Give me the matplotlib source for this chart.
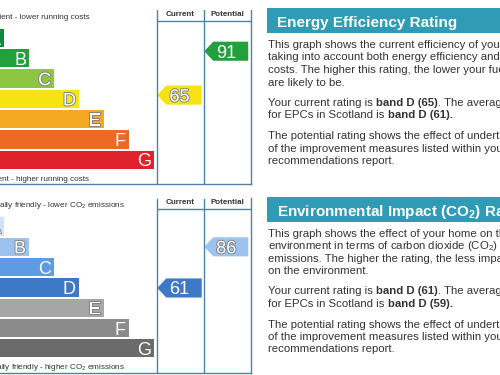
import matplotlib
matplotlib.use("Agg")
import matplotlib.pyplot as plt
import matplotlib.patheffects as pe
from matplotlib.colors import to_rgb
from matplotlib.patches import Polygon, Rectangle

plt.rcParams["font.family"] = ["Liberation Sans", "DejaVu Sans"]
plt.rcParams["mathtext.fontset"] = "custom"
plt.rcParams["mathtext.rm"] = "Liberation Sans"
plt.rcParams["mathtext.it"] = "Liberation Sans"
plt.rcParams["mathtext.bf"] = "Liberation Sans:bold"

# rating bands (A best .. G worst) and their score ranges
bands = ["A", "B", "C", "D", "E", "F", "G"]
band_lengths = [1, 2, 3, 4, 5, 6, 7]
band_low = [92, 81, 69, 55, 39, 21, 1]
band_high = [100, 91, 80, 68, 54, 38, 20]

energy_current = 65
energy_potential = 91
co2_current = 61
co2_potential = 86

energy_top = "Very energy efficient - lower running costs"
energy_bottom = "Not energy efficient - higher running costs"
co2_top = "Very environmentally friendly - lower CO$_2$ emissions"
co2_bottom = "Not environmentally friendly - higher CO$_2$ emissions"

energy_title = "Energy Efficiency Rating"
co2_title = "Environmental Impact (CO$_\\mathbf{2}$) Rating"

energy_paras = [
    [[("This graph shows the current efficiency of your home,", False)],
     [("taking into account both energy efficiency and fuel", False)],
     [("costs. The higher this rating, the lower your fuel bills", False)],
     [("are likely to be.", False)]],
    [[("Your current rating is ", False), ("band D (65)", True), (". The average rating", False)],
     [("for EPCs in Scotland is ", False), ("band D (61).", True)]],
    [[("The potential rating shows the effect of undertaking all", False)],
     [("of the improvement measures listed within your", False)],
     [("recommendations report.", False)]],
]
co2_paras = [
    [[("This graph shows the effect of your home on the", False)],
     [("environment in terms of carbon dioxide (CO$_2$)", False)],
     [("emissions. The higher the rating, the less impact it has", False)],
     [("on the environment.", False)]],
    [[("Your current rating is ", False), ("band D (61)", True), (". The average rating", False)],
     [("for EPCs in Scotland is ", False), ("band D (59).", True)]],
    [[("The potential rating shows the effect of undertaking all", False)],
     [("of the improvement measures listed within your", False)],
     [("recommendations report.", False)]],
]

energy_colors = ["#0d8a3e", "#22a03c", "#8dc640", "#f7e214", "#f5a923", "#ec6a24", "#e0222c"]
co2_colors = ["#cfe2f6", "#9cc3ee", "#5d9be3", "#3d79c6", "#a6a6a6", "#8b8b8b", "#6b6b6b"]
FRAME = "#4f80a8"
TEAL = "#2f9bb4"
TEXT = "#333333"

W, H = 500, 375


def band_index(value):
    for i, lo in enumerate(band_low):
        if value >= lo:
            return i
    return len(bands) - 1


def arrow_y(value):
    i = band_index(value)
    frac = (value - band_low[i]) / (band_high[i] - band_low[i])
    return i - (frac - 0.5) * 0.7


def is_light(color):
    r, g, b = to_rgb(color)
    return 0.299 * r + 0.587 * g + 0.114 * b > 0.6


def outline(color):
    if is_light(color):
        return [pe.withStroke(linewidth=1.3, foreground="#808080")]
    return []


def arrow(ax, value, colors, x0, x1):
    i = band_index(value)
    y = arrow_y(value)
    h = 0.47
    tip = 0.36
    pts = [(x0, y), (x0 + tip, y - h), (x1, y - h), (x1, y + h), (x0 + tip, y + h)]
    ax.add_patch(Polygon(pts, closed=True, facecolor=colors[i], edgecolor="none"))
    ax.text((x0 + x1) / 2, y, str(value), ha="center", va="center_baseline",
            color="white", fontsize=13, path_effects=outline(colors[i]))


def draw_chart(ax, colors, current, potential, top_label, bottom_label, label_x):
    y = list(range(len(bands)))
    ax.barh(y, band_lengths, height=0.9, color=colors, left=0)
    for i, (b, ln) in enumerate(zip(bands, band_lengths)):
        ax.text(ln - 0.12, i, b, ha="right", va="center_baseline", color="white",
                fontsize=13, path_effects=outline(colors[i]))

    c0, c1, right = 7.13, 9.0, 10.88
    ax.set_xlim(0.84, right)
    ax.set_ylim(7.19, -1.38)
    ax.axvline(c0, color=FRAME, lw=1)
    ax.axvline(c1, color=FRAME, lw=1)
    ax.hlines(-0.85, c0, right, color=FRAME, lw=1)
    for s in ["left", "top"]:
        ax.spines[s].set_visible(False)
    for s in ["bottom", "right"]:
        ax.spines[s].set_color(FRAME)
        ax.spines[s].set_linewidth(1)
    ax.set_xticks([])
    ax.set_yticks([])
    ax.patch.set_alpha(0)

    ax.text((c0 + c1) / 2, -1.16, "Current", ha="center", va="center",
            fontsize=5.8, fontweight="bold", color=TEXT)
    ax.text((c1 + right) / 2, -1.16, "Potential", ha="center", va="center",
            fontsize=5.8, fontweight="bold", color=TEXT)
    ax.text(label_x, -1.03, top_label, ha="right", va="center", fontsize=5.9, color=TEXT)
    ax.text(label_x, 6.95, bottom_label, ha="right", va="center", fontsize=5.9, color=TEXT)

    arrow(ax, current, colors, c0, 8.91)
    arrow(ax, potential, colors, c1 + 0.01, 10.77)


def draw_panel(fig, renderer, top_px, title, paras):
    fig.add_artist(Rectangle((267 / W, 1 - (top_px + 24.5) / H), 240 / W, 24.5 / H,
                             transform=fig.transFigure, facecolor=TEAL, edgecolor="none"))
    fig.text(277 / W, 1 - (top_px + 12.5) / H, title, ha="left", va="center_baseline",
             color="white", fontsize=11.0, fontweight="bold")
    base = top_px + 39.5
    for p in paras:
        for line in p:
            x = 268
            for txt, bold in line:
                t = fig.text(x / W, 1 - base / H, txt, ha="left", va="baseline",
                             fontsize=8.2, color=TEXT,
                             fontweight="bold" if bold else "normal")
                x = t.get_window_extent(renderer).x1
            base += 12.5
        base += 8


fig = plt.figure(figsize=(5, 3.75), dpi=100)
renderer = fig.canvas.get_renderer()

ax1 = fig.add_axes([0, 1 - 184 / H, 251 / W, 174 / H])
draw_chart(ax1, energy_colors, energy_current, energy_potential,
           energy_top, energy_bottom, 4.4)
ax2 = fig.add_axes([0, 1 - 372.5 / H, 251 / W, 174 / H])
draw_chart(ax2, co2_colors, co2_current, co2_potential, co2_top, co2_bottom, 5.84)

draw_panel(fig, renderer, 8.5, energy_title, energy_paras)
draw_panel(fig, renderer, 197, co2_title, co2_paras)

fig.savefig("out.png", dpi=100)
